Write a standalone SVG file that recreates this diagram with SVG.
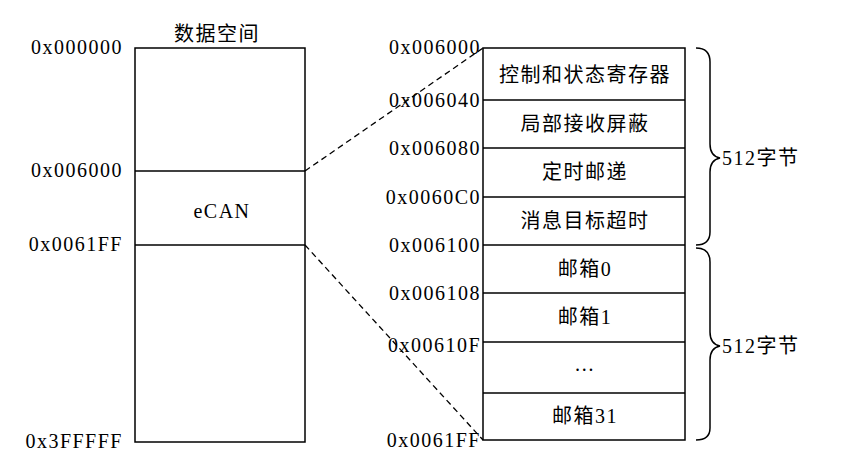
<svg xmlns="http://www.w3.org/2000/svg" width="847" height="470" viewBox="0 0 847 470">
<style>
text{font-family:"Liberation Serif","Noto Sans CJK SC",serif;font-size:20px;letter-spacing:1.5px;fill:#000}
.a{text-anchor:end}
.c{text-anchor:middle}
.b{fill:none;stroke:#000;stroke-width:1.5}
</style>
<rect width="847" height="470" fill="#fff"/>
<g id="left">
<rect x="135" y="48" width="170" height="394" class="b"/>
<line x1="135" y1="171" x2="305" y2="171" class="b"/>
<line x1="135" y1="245" x2="305" y2="245" class="b"/>
<text x="217" y="41" class="c">数据空间</text>
<text x="222" y="218" class="c">eCAN</text>
<text x="123" y="54" class="a">0x000000</text>
<text x="123" y="177" class="a">0x006000</text>
<text x="123" y="251" class="a">0x0061FF</text>
<text x="123" y="448" class="a">0x3FFFFF</text>
</g>
<g id="right">
<rect x="483" y="48" width="202" height="392" class="b"/>
<g class="b">
<line x1="483" y1="100" x2="685" y2="100"/>
<line x1="483" y1="148" x2="685" y2="148"/>
<line x1="483" y1="197" x2="685" y2="197"/>
<line x1="483" y1="245" x2="685" y2="245"/>
<line x1="483" y1="293" x2="685" y2="293"/>
<line x1="483" y1="342" x2="685" y2="342"/>
<line x1="483" y1="393" x2="685" y2="393"/>
</g>
<text x="585" y="82" class="c">控制和状态寄存器</text>
<text x="585" y="131" class="c">局部接收屏蔽</text>
<text x="585" y="179" class="c">定时邮递</text>
<text x="585" y="228" class="c">消息目标超时</text>
<text x="585" y="276" class="c">邮箱0</text>
<text x="585" y="324" class="c">邮箱1</text>
<text x="585" y="371" class="c">…</text>
<text x="585" y="423" class="c">邮箱31</text>
<text x="481" y="54" class="a">0x006000</text>
<text x="481" y="107" class="a">0x006040</text>
<text x="481" y="155" class="a">0x006080</text>
<text x="481" y="204" class="a">0x0060C0</text>
<text x="481" y="252" class="a">0x006100</text>
<text x="481" y="300" class="a">0x006108</text>
<text x="481" y="352" class="a">0x00610F</text>
<text x="481" y="447" class="a">0x0061FF</text>
</g>
<g id="connectors" fill="none" stroke="#000" stroke-width="1.3">
<line x1="305" y1="171" x2="483" y2="48" stroke-dasharray="6,4"/>
<line x1="305" y1="245" x2="483" y2="440" stroke-dasharray="6,4"/>
<path d="M696,48 Q710,48 710,62 L710,144 Q710,156 720,158 Q710,160 710,172 L710,232 Q710,245 696,245" class="b"/>
<path d="M696,248 Q710,248 710,262 L710,332 Q710,344 720,346 Q710,348 710,360 L710,428 Q710,440 696,440" class="b"/>
</g>
<g id="labels">
<text x="722" y="165">512字节</text>
<text x="722" y="353">512字节</text>
</g>
</svg>
